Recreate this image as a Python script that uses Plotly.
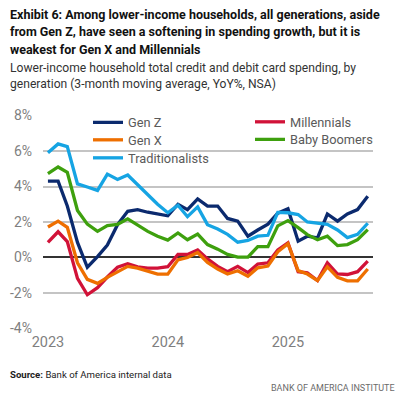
import pandas as pd
import plotly.graph_objects as go

months = pd.date_range("2023-01-01", "2025-09-01", freq="MS")

gen_z = [4.3, 4.3, 2.9, 0.85, -0.55, 0.05, 0.7, 1.85, 2.6, 2.7, 2.55, 2.45, 2.35,
         3.0, 2.7, 3.3, 2.9, 2.9, 2.2, 2.05, 1.2, 1.55, 1.88, 2.5, 2.75, 0.92,
         1.2, 1.1, 2.45, 2.05, 2.45, 2.7, 3.45]
millennials = [0.85, 1.45, 0.9, -1.18, -2.1, -1.7, -1.1, -0.55, -0.35, -0.53, -0.6,
               -0.6, -0.52, 0.17, 0.17, 0.43, -0.08, -0.5, -0.8, -0.5, -0.85, -0.37,
               -0.3, 0.43, 0.82, -0.8, -0.87, -1.3, -0.3, -0.93, -0.96, -0.8, -0.2]
gen_x = [1.72, 2.05, 1.7, -0.3, -1.23, -1.46, -1.12, -0.82, -0.5, -0.6, -0.78, -0.94,
         -0.94, -0.13, 0.0, 0.28, -0.28, -0.65, -0.93, -0.75, -1.06, -0.58, -0.48,
         0.32, 0.78, -0.74, -0.93, -1.3, -0.53, -1.12, -1.32, -1.32, -0.65]
baby_boomers = [4.72, 5.1, 4.8, 2.65, 1.88, 1.47, 1.8, 1.87, 2.18, 1.85, 1.47, 1.2,
                0.98, 1.38, 1.0, 1.32, 0.73, 0.47, 0.17, 0.02, 0.02, 0.61, 0.61,
                1.78, 2.08, 1.68, 1.29, 1.0, 1.2, 0.67, 0.73, 1.0, 1.57]
traditionalists = [5.9, 6.4, 6.25, 4.15, 3.97, 3.78, 4.7, 4.4, 4.65, 4.1, 3.55, 3.0,
                   2.52, 2.95, 2.3, 2.85, 1.85, 1.6, 1.3, 0.86, 0.96, 1.2, 1.25,
                   2.54, 2.52, 2.42, 2.0, 1.92, 1.87, 1.55, 1.12, 1.3, 1.93]

y_ticks = [-4, -2, 0, 2, 4, 6, 8]
y_tick_labels = ["-4%", "-2%", "0%", "2%", "4%", "6%", "8%"]
x_ticks = ["2023-01-01", "2024-01-01", "2025-01-01"]
x_tick_labels = ["2023", "2024", "2025"]

title_lines = [
    "Exhibit 6: Among lower-income households, all generations, aside",
    "from Gen Z, have seen a softening in spending growth, but it is",
    "weakest for Gen X and Millennials",
]
subtitle_lines = [
    "Lower-income household total credit and debit card spending, by",
    "generation (3-month moving average, YoY%, NSA)",
]

FONT = "Roboto, Liberation Sans, Arial, sans-serif"

# page body has an 8px margin: figure coordinates = window coordinates - 8
OFF = 8
FIG_W, FIG_H = 403 - OFF, 399 - OFF
L, T, W, H = 43 - OFF, 115 - OFF, 330, 214


def px(x):
    return (x - OFF - L) / W


def py(y):
    return (T + H - (y - OFF)) / H


# (name, values, colour, legend id, legend swatch start x, legend row centre y) in window px
series = [
    ("Gen Z", gen_z, "#0b2a6e", "legend", 93, 122),
    ("Millennials", millennials, "#d11238", "legend2", 255, 121.5),
    ("Gen X", gen_x, "#ee6f00", "legend3", 93, 139.5),
    ("Baby Boomers", baby_boomers, "#3ea00e", "legend4", 255, 139),
    ("Traditionalists", traditionalists, "#16a4e3", "legend5", 93, 157.5),
]

fig = go.Figure()
legends = {}
for name, vals, color, leg, lx, ly in series:
    fig.add_trace(go.Scatter(x=months, y=vals, name=name, mode="lines",
                             line=dict(color=color, width=3.3),
                             legend=leg))
    legends[leg] = dict(orientation="v", bgcolor="rgba(0,0,0,0)", borderwidth=0,
                        font=dict(family=FONT, size=12.8, color="#5a5a5a"),
                        xanchor="left", yanchor="top", itemwidth=30,
                        x=max(px(lx - 5), -0.1), y=py(ly - 14.5))

annotations = []
for i, line in enumerate(title_lines):
    annotations.append(dict(
        xref="paper", yref="paper", x=-L / W, y=py([15, 31.5, 49][i]),
        xanchor="left", yanchor="middle", align="left", showarrow=False,
        text="<b>" + line + "</b>",
        font=dict(family=FONT, size=12.5, color="#111111")))
for i, line in enumerate(subtitle_lines):
    annotations.append(dict(
        xref="paper", yref="paper", x=-L / W, y=py([68, 84][i]),
        xanchor="left", yanchor="middle", align="left", showarrow=False,
        text=line, font=dict(family=FONT, size=12.1, color="#333333")))
annotations.append(dict(
    xref="paper", yref="paper", x=-L / W, y=py(374),
    xanchor="left", yanchor="middle", align="left", showarrow=False,
    text="<b>Source:</b> Bank of America internal data",
    font=dict(family=FONT, size=9.6, color="#222222")))
annotations.append(dict(
    xref="paper", yref="paper", x=px(397), y=py(388),
    xanchor="right", yanchor="middle", align="right", showarrow=False,
    text="BANK OF AMERICA INSTITUTE",
    font=dict(family=FONT, size=9, color="#6b6b6b")))

fig.update_layout(
    width=FIG_W, height=FIG_H,
    margin=dict(l=L, r=FIG_W - L - W, t=T, b=FIG_H - T - H, autoexpand=False),
    paper_bgcolor="white", plot_bgcolor="white",
    font=dict(family=FONT, size=14, color="#7f7f7f"),
    showlegend=True,
    xaxis=dict(type="date", range=["2022-12-17", "2025-09-17"],
               tickvals=x_ticks, ticktext=x_tick_labels,
               showgrid=False, zeroline=False, showline=False, ticks="",
               tickfont=dict(family=FONT, size=14.5, color="#7f7f7f"),
               ticklabelstandoff=2),
    yaxis=dict(range=[-4.03, 8.03], tickvals=y_ticks, ticktext=y_tick_labels,
               showgrid=True, gridcolor="#c4c4c4", gridwidth=1.5,
               zeroline=True, zerolinecolor="#333333", zerolinewidth=1.5,
               showline=False, ticks="",
               tickfont=dict(family=FONT, size=14, color="#7f7f7f"),
               ticklabelstandoff=10),
    annotations=annotations,
    **legends,
)

fig.write_html("out.html")
